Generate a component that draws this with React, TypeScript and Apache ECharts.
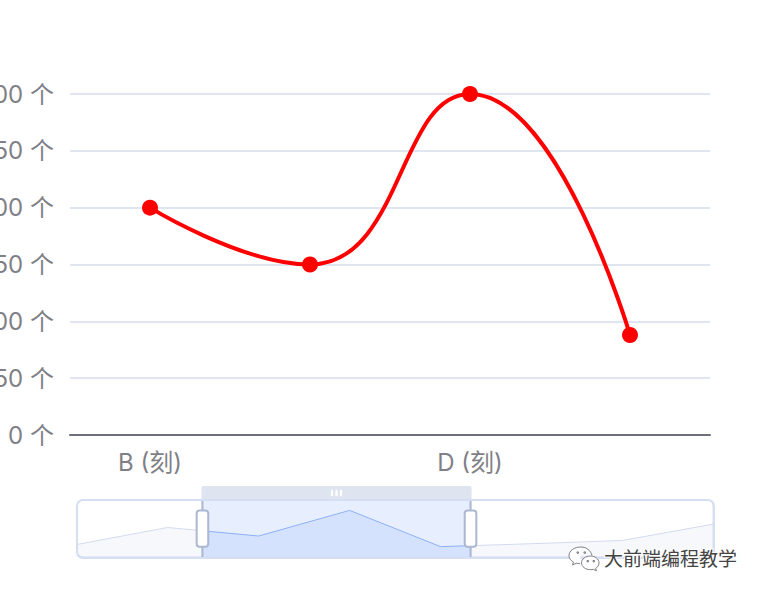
import React, { useEffect, useRef } from "react";
import * as echarts from "echarts";

const categories = ["A (刻)", "B (刻)", "C (刻)", "D (刻)", "E (刻)", "F (刻)", "G (刻)", "H (刻)"];
const seriesValues = [100, 200, 150, 300, 88, 105, 124, 220];
const watermark = "大前端编程教学";
const FONT = "Inter, 'Noto Sans CJK SC', sans-serif";
const LABEL_COLOR = "#7f7f87";

echarts.graphic.registerShape(
  "wechatIcon",
  echarts.graphic.extendPath(
    "M12 0C5.4 0 0 4.2 0 9.5c0 3 1.8 5.6 4.5 7.3L3.5 20l3.8-2c1.2.3 2.4.5 3.7.5M23 9.4C21.8 4 17.4 0 12 0M21.5 10C16.5 10 12.5 13.4 12.5 17.6c0 4.2 4 7.6 9 7.6 1 0 2-.1 2.9-.4l3 1.7-.8-2.7c2.2-1.4 3.4-3.7 3.4-6.2 0-4.2-4-7.6-8.5-7.6ZM8 5.5h1.5v1.5h-1.5ZM15 5.5h1.5v1.5h-1.5ZM18 15h1.5v1.5h-1.5ZM24 15h1.5v1.5h-1.5Z",
    {}
  )
);

export default function App() {
  const ref = useRef<HTMLDivElement>(null);
  useEffect(() => {
    document.body.style.margin = "0";
    const chart = echarts.init(ref.current!, undefined, { renderer: "svg" });
    chart.setOption({
      animation: false,
      textStyle: { fontFamily: FONT },
      grid: { left: 70, right: 52, top: 94, bottom: 157, outerBoundsMode: "none" },
      xAxis: {
        type: "category",
        data: categories,
        axisLine: { lineStyle: { color: "#6E7079", width: 2 } },
        axisTick: { show: false },
        axisLabel: { interval: 1, color: LABEL_COLOR, fontSize: 24, margin: 15, fontFamily: FONT },
      },
      yAxis: {
        type: "value",
        min: 0,
        max: 300,
        interval: 50,
        axisLabel: { formatter: "{value} 个", color: LABEL_COLOR, fontSize: 24, margin: 16, fontFamily: FONT },
        splitLine: { lineStyle: { color: "#E0E6F1", width: 2 } },
      },
      dataZoom: [
        {
          type: "slider",
          xAxisIndex: 0,
          start: 19.6,
          end: 62.0,
          left: 71,
          right: 54,
          top: 486,
          height: 58,
          showDetail: false,
          borderRadius: 6,
          borderColor: "#d2dbee",
          fillerColor: "rgba(135,175,274,0.2)",
          moveHandleSize: 14,
          moveHandleStyle: { color: "#dfe4f1", opacity: 1 },
          handleStyle: { borderWidth: 2, borderColor: "#ACB8D1", color: "#fff" },
          dataBackground: {
            lineStyle: { color: "#d2dbee", width: 1, opacity: 1 },
            areaStyle: { color: "#d2dbee", opacity: 0.2 },
          },
          selectedDataBackground: {
            lineStyle: { color: "#8fb0f7", width: 1, opacity: 1 },
            areaStyle: { color: "#8fb0f7", opacity: 0.2 },
          },
        },
      ],
      series: [
        {
          type: "line",
          data: seriesValues,
          smooth: true,
          symbol: "circle",
          symbolSize: 16,
          lineStyle: { color: "#ff0000", width: 4 },
          itemStyle: { color: "#ff0000" },
        },
      ],
      graphic: [
        {
          type: "rect",
          shape: { x: 77, y: 500, width: 637, height: 58, r: 6 },
          z: 100,
          style: { fill: "transparent", stroke: "#d5def2", lineWidth: 2 },
          silent: true,
        },
        {
          type: "wechatIcon",
          x: 569,
          y: 547,
          scaleX: 1,
          scaleY: 0.9,
          z: 100,
          style: { fill: "#fff", stroke: "#77777d", lineWidth: 1 },
        },
        {
          type: "text",
          x: 604,
          y: 548,
          z: 100,
          style: {
            text: watermark,
            fill: "#444444",
            stroke: "#fff",
            lineWidth: 2,
            font: "19px 'Noto Sans CJK SC', sans-serif",
          },
        },
      ],
    });
    return () => chart.dispose();
  }, []);
  return <div ref={ref} style={{ width: 762, height: 592 }} />;
}
